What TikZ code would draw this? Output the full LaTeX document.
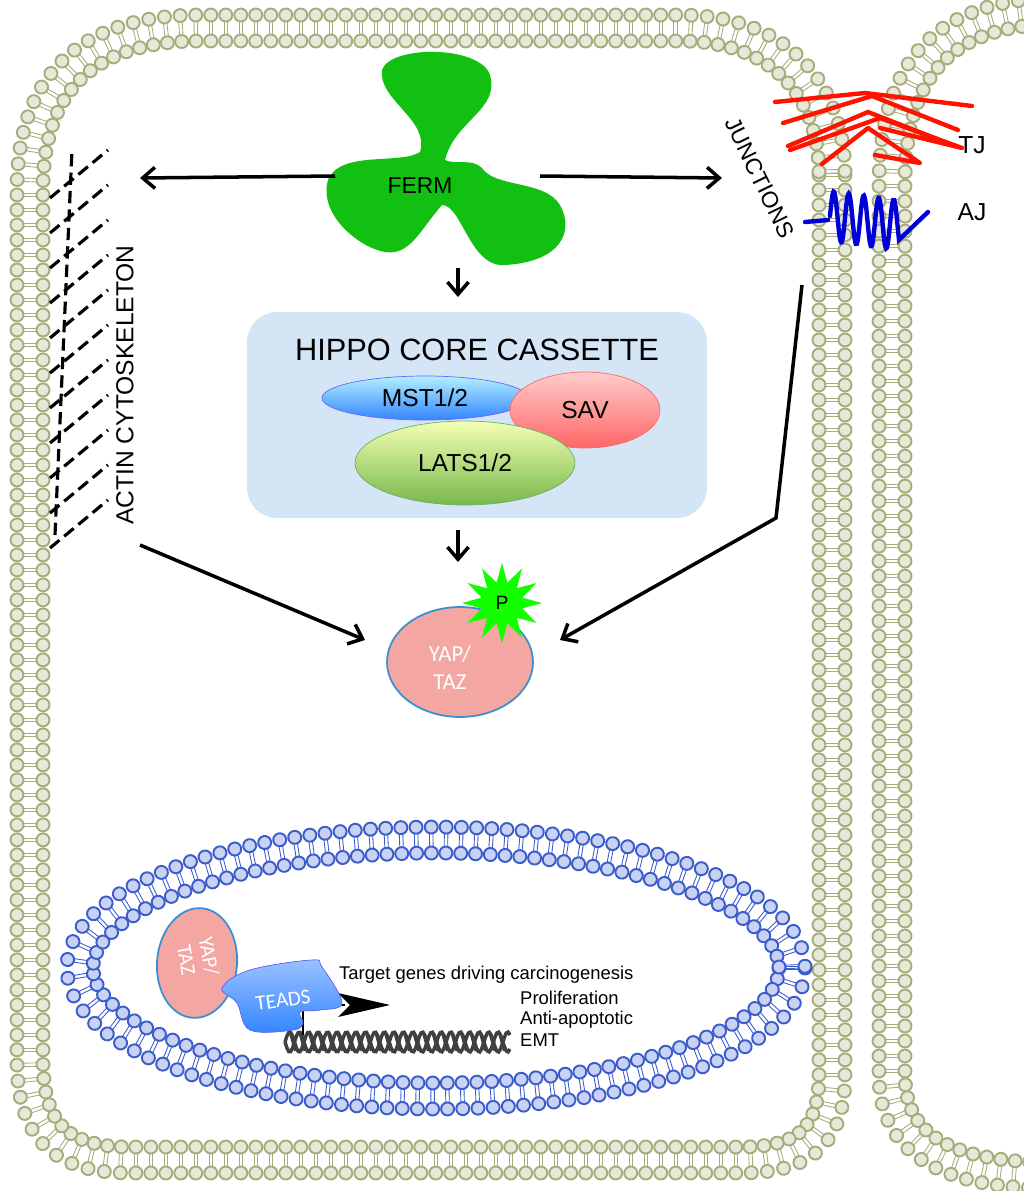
\documentclass[tikz,border=0pt]{standalone}
\usepackage{fontspec}
\setmainfont{Liberation Sans}
\newfontfamily\carlitofont{Carlito}
\usetikzlibrary{decorations.markings,shapes.geometric,arrows.meta}
\definecolor{lipF}{HTML}{E6E8D8}
\definecolor{lipS}{HTML}{A8AC7C}
\definecolor{nucF}{HTML}{C8D2F2}
\definecolor{nucS}{HTML}{3C5CCC}
\definecolor{boxF}{HTML}{D4E6F5}
\definecolor{fermG}{HTML}{11C011}
\definecolor{yapF}{HTML}{F4A6A2}
\definecolor{yapS}{HTML}{3A8FD0}
\begin{document}
\begin{tikzpicture}[x=0.02cm,y=-0.02cm,
  membrane/.style 2 args={postaction={decorate},decoration={markings,
    mark=between positions 0 and 1 step 0.3cm with {
      \draw[#2,line width=0.5pt] (-0.035cm,-0.13cm)--(-0.035cm,0.13cm) (0.035cm,-0.13cm)--(0.035cm,0.13cm);
      \filldraw[fill=#1,draw=#2,line width=1.1pt] (0,0.26cm) circle (0.13cm) (0,-0.26cm) circle (0.13cm);}}},
  arr/.style={-{Straight Barb[length=7pt,width=12pt]},line width=2pt},
  lbl/.style={font=\fontsize{14}{16}\selectfont},
  actin/.style={line width=1.8pt,dash pattern=on 7pt off 3.5pt}]
\useasboundingbox (0,0) rectangle (1024,1191);
% cell membranes
\path[membrane={lipF}{lipS}] (832,175) -- (832,1075) .. controls (832,1140) and (800,1160) .. (740,1160) -- (130,1160) .. controls (60,1160) and (30,1130) .. (30,1060) -- (30,190) .. controls (30,80) and (90,28) .. (200,28) -- (680,28) .. controls (780,28) and (832,90) .. (832,175);
\path[membrane={lipF}{lipS}] (1035,12) .. controls (930,20) and (892,85) .. (892,185) -- (892,1075) .. controls (892,1140) and (940,1172) .. (1035,1175);
% nucleus
\path[membrane={nucF}{nucS}] (436,968) ellipse [x radius=356, y radius=128];
% actin
\draw[actin] (55,535) -- (72,150);
\foreach \y in {150,185,...,500} \draw[actin] (50,\y+48) -- (108,\y);
\node[lbl,rotate=90] (actinlbl) at (125,385) {ACTIN CYTOSKELETON};
% FERM
\fill[fermG] (445,160) .. controls (455,120) and (500,110) .. (490,75) .. controls (480,45) and (390,45) .. (382,70) .. controls (378,100) and (430,120) .. (420,152) .. controls (400,165) and (340,150) .. (328,180) .. controls (318,215) and (360,248) .. (385,252) .. controls (410,256) and (420,230) .. (442,205) .. controls (462,205) and (470,268) .. (505,265) .. controls (560,262) and (575,232) .. (560,205) .. controls (545,180) and (495,188) .. (482,168) .. controls (472,158) and (455,165) .. (445,160) -- cycle;
\node[font=\fontsize{13}{15}\selectfont] (ferm) at (420,186) {FERM};
\coordinate (fL) at (335,176); \coordinate (aT) at (140,178);
\coordinate (fR) at (540,176); \coordinate (jL) at (722,178);
\coordinate (fD) at (458,268); \coordinate (bT) at (458,297);
\draw[arr] (fL) -- (aT);
\draw[arr] (fR) -- (jL);
\draw[arr] (fD) -- (bT);
% junction TJ/AJ
\begin{scope}[red!85!orange,line width=2.5pt,line cap=round,line join=round]
\draw (775,102) -- (865,93) -- (972,106);
\draw (783,123) -- (872,96) -- (958,130);
\draw (788,146) -- (868,112) -- (955,146);
\draw (790,150) -- (880,118) -- (962,148) -- (880,128);
\draw (822,164) -- (868,128) -- (920,163) -- (875,155);
\end{scope}
\draw[blue!85!black,line width=2.5pt,line cap=round] (805,222) -- (828,220) plot[smooth,domain=0:4.6,samples=60] ({830+15*\x},{216-25*sin(\x*360)+2*\x}) -- (928,212);
\node[font=\fontsize{14}{16}\selectfont] (tj) at (972,145) {TJ};
\node[font=\fontsize{14}{16}\selectfont] (aj) at (972,212) {AJ};
\node[font=\fontsize{13}{15}\selectfont,rotate=-64] (junc) at (760,178) {JUNCTIONS};
% hippo box
\node[draw=none,fill=boxF,rounded corners=0.6cm,minimum width=9.2cm,minimum height=4.12cm] (box) at (477,415) {};
\node[font=\fontsize{17.5}{20}\selectfont] (title) at (477,350) {HIPPO CORE CASSETTE};
\node[ellipse,draw=blue!60,top color=blue!20!cyan!30,bottom color=blue!60!cyan!80,minimum width=4.12cm,minimum height=0.88cm,font=\fontsize{14}{16}\selectfont] (mst) at (425,398) {MST1/2};
\node[ellipse,draw=red!60,top color=red!20,bottom color=red!60!white,minimum width=3.0cm,minimum height=1.52cm,font=\fontsize{14}{16}\selectfont] (sav) at (585,410) {SAV};
\node[ellipse,draw=green!50!black!60,top color=green!15!yellow!30,bottom color=green!60!yellow!60!black!70,minimum width=4.4cm,minimum height=1.68cm,font=\fontsize{14}{16}\selectfont] (lats) at (465,463) {LATS1/2};
\coordinate (bB) at (458,530); \coordinate (yT) at (458,562);
\draw[arr] (bB) -- (yT);
% YAP/TAZ
\node[ellipse,draw=yapS,line width=1pt,fill=yapF,minimum width=2.92cm,minimum height=2.2cm] (yap) at (460,662) {};
\node[star,star points=12,star point ratio=1.9,fill=green!90!lime,minimum size=1.6cm,inner sep=0pt] (p) at (502,603) {};
\node[font=\fontsize{11}{12}\selectfont] at (p) {P};
\node[align=center,text=white,font=\carlitofont\fontsize{13}{16}\selectfont] (yaptxt) at (450,668) {YAP/\\TAZ};
\coordinate (aS) at (140,545); \coordinate (yL) at (365,640);
\draw[arr] (aS) -- (yL);
\coordinate (jS) at (802,285); \coordinate (jK) at (776,518); \coordinate (yR) at (560,640);
\draw[arr] (jS) -- (jK) -- (yR);
% nucleus contents
\node[ellipse,draw=yapS,fill=yapF,line width=1pt,minimum width=1.6cm,minimum height=2.2cm,rotate=-5] (yap2) at (197,963) {};
\node[align=center,text=white,rotate=-80,font=\carlitofont\fontsize{12}{13}\selectfont] (yap2t) at (198,958) {YAP/\\TAZ};
% DNA
\begin{scope}[line width=2pt,black!75]
\draw[domain=285:510,samples=120] plot (\x,{1042+10*sin((\x-285)*19)});
\draw[domain=285:510,samples=120] plot (\x,{1042-10*sin((\x-285)*19)});
\foreach \xx in {290,299.5,...,505} \draw[line width=1.2pt] (\xx,1033) -- (\xx+5,1051);
\end{scope}
\coordinate (prom) at (303,1035); \coordinate (tss) at (390,1005);
\draw[line width=1pt] (prom) |- (345,1005);
\fill (tss) -- (338,993) -- (350,1005) -- (338,1017) -- cycle;
\fill[top color=cyan!40!blue!40,bottom color=blue!60!cyan!80,draw=blue!60] plot[smooth cycle,tension=0.6] coordinates {(222,988) (250,970) (312,960) (322,967) (342,1003) (320,1010) (300,1012) (303,1023) (293,1030) (250,1030) (237,1003)};
\node[text=white,rotate=8,font=\carlitofont\fontsize{12}{14}\selectfont] (teads) at (283,1000) {TEADS};
\node[anchor=west,font=\fontsize{10.5}{12}\selectfont] (tg) at (333,975) {Target genes driving carcinogenesis};
\node[anchor=west,font=\fontsize{10.5}{12}\selectfont] (pr) at (514,998) {Proliferation};
\node[anchor=west,font=\fontsize{10.5}{12}\selectfont] (aa) at (514,1020) {Anti-apoptotic};
\node[anchor=west,font=\fontsize{10.5}{12}\selectfont] (emt) at (514,1040) {EMT};
\end{tikzpicture}
\end{document}
